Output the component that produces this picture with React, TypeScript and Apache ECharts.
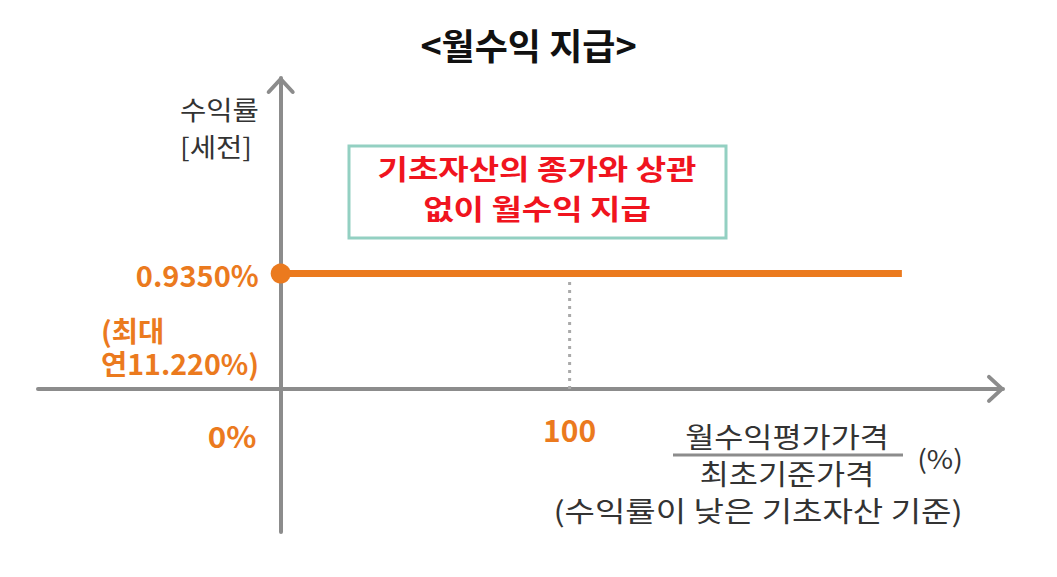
import React, { useRef, useEffect } from 'react';
import * as echarts from 'echarts';

// monthly payout level (%) and where the flat line ends on the price axis
const payoutLine: [number, number][] = [
  [0, 0.935],
  [215, 0.935],
];
// reference price level (100%) on the x axis
const refPoint: [number, number] = [100, 0];

const ORANGE = '#EB7A1E';
const GRAY = '#8c8c8c';
const FONT = '"Noto Sans CJK KR", "Noto Sans", sans-serif';

const App: React.FC = () => {
  const chartRef = useRef<HTMLDivElement>(null);

  useEffect(() => {
    if (!chartRef.current) return;
    document.body.style.margin = '0';
    const chart = echarts.init(chartRef.current, undefined, { renderer: 'svg' });

    const orangeLabel = {
      color: ORANGE,
      fontWeight: 'bold',
      fontFamily: FONT,
      fontSize: 29,
    };

    const option: any = {
      animation: false,
      textStyle: { fontFamily: FONT },
      title: {
        text: '<월수익 지급>',
        left: 'center',
        top: 21,
        textStyle: { fontSize: 36, fontWeight: 'bold', color: '#111', fontFamily: FONT },
      },
      grid: { left: 38, right: 54, top: 78, bottom: 45, containLabel: false, outerBoundsMode: 'none' },
      xAxis: {
        type: 'value',
        min: -84,
        max: 250,
        splitLine: { show: false },
        axisTick: { show: false },
        axisLabel: { show: false },
        axisLine: { show: true, onZero: true, lineStyle: { color: GRAY, width: 4 } },
      },
      yAxis: {
        type: 'value',
        min: -1.16,
        max: 2.52,
        splitLine: { show: false },
        axisTick: { show: false },
        axisLabel: { show: false },
        axisLine: { show: true, onZero: true, lineStyle: { color: GRAY, width: 4 } },
      },
      series: [
        {
          // dotted guide from 100 up to the payout line
          type: 'line',
          data: [refPoint, [refPoint[0], payoutLine[0][1]]],
          lineStyle: { color: '#aaaaaa', width: 3, type: [3, 5] },
          symbol: 'none',
          z: 1,
        },
        {
          type: 'line',
          data: payoutLine.map((p, i) => ({
            value: p,
            symbol: i === 0 ? 'circle' : 'none',
            label:
              i === 0
                ? {
                    show: true,
                    position: 'left',
                    distance: 12,
                    formatter: () => p[1].toFixed(4) + '%',
                    ...orangeLabel,
                  }
                : { show: false },
          })),
          symbolSize: 20,
          itemStyle: { color: ORANGE },
          lineStyle: { color: ORANGE, width: 7 },
          z: 3,
        },
        {
          type: 'scatter',
          data: [refPoint],
          symbolSize: 1,
          itemStyle: { color: 'rgba(0,0,0,0)', opacity: 1 },
          label: {
            show: true,
            position: 'bottom',
            distance: 25,
            formatter: () => String(refPoint[0]),
            ...orangeLabel,
            fontSize: 30,
          },
          z: 2,
        },
      ],
    };
    chart.setOption(option);

    // open arrow heads at the far ends of both axes, and annotations
    const top = chart.convertToPixel({ gridIndex: 0 }, [0, 2.52]) as number[];
    const right = chart.convertToPixel({ gridIndex: 0 }, [250, 0]) as number[];
    const arrowStyle = { stroke: GRAY, lineWidth: 4, fill: 'none', lineCap: 'round', lineJoin: 'round' };
    const txt = (x: number, y: number, text: string, extra: any = {}, scaleX = 1) => ({
      type: 'text',
      x,
      y,
      scaleX,
      style: {
        text,
        fontFamily: FONT,
        fontSize: 26,
        fill: '#333',
        align: 'center',
        verticalAlign: 'middle',
        ...extra,
      },
    });
    const orangeText = { fill: ORANGE, fontWeight: 'bold', fontSize: 28 };
    const redText = { fill: '#f0141e', fontWeight: 'bold', fontSize: 28 };
    chart.setOption({
      graphic: [
        {
          type: 'polyline',
          shape: { points: [[top[0] - 12, top[1] + 14], [top[0], top[1] + 1], [top[0] + 12, top[1] + 14]] },
          style: arrowStyle,
        },
        {
          type: 'polyline',
          shape: { points: [[right[0] - 14, right[1] - 12], [right[0] - 1, right[1]], [right[0] - 14, right[1] + 12]] },
          style: arrowStyle,
        },
        txt(180, 109, '수익률', { align: 'left' }, 1.1),
        txt(180, 146, '[세전]', { align: 'left' }, 1.1),
        txt(101, 330, '(최대', { align: 'left', ...orangeText }, 1.02),
        txt(101, 363, '연11.220%)', { align: 'left', ...orangeText }, 1.02),
        txt(232, 436, '0%', { ...orangeText, fontSize: 29 }, 1.08),
        {
          type: 'rect',
          shape: { x: 349, y: 146, width: 377, height: 92 },
          style: { fill: '#fff', stroke: '#93d0c2', lineWidth: 3 },
        },
        txt(537, 168, '기초자산의 종가와 상관', redText, 1.18),
        txt(537, 208, '없이 월수익 지급', redText, 1.18),
        txt(787, 436, '월수익평가가격', { fontSize: 28 }, 1.13),
        {
          type: 'line',
          shape: { x1: 673, y1: 455, x2: 903, y2: 455 },
          style: { stroke: GRAY, lineWidth: 3 },
        },
        txt(787, 473, '최초기준가격', { fontSize: 28 }, 1.13),
        txt(940, 458, '(%)', {}, 1.1),
        txt(758, 510, '(수익률이 낮은 기초자산 기준)', { fontSize: 28 }, 1.18),
      ],
    });

    return () => {
      chart.dispose();
    };
  }, []);

  return <div ref={chartRef} style={{ width: 1057, height: 577, background: '#fff' }} />;
};

export default App;
